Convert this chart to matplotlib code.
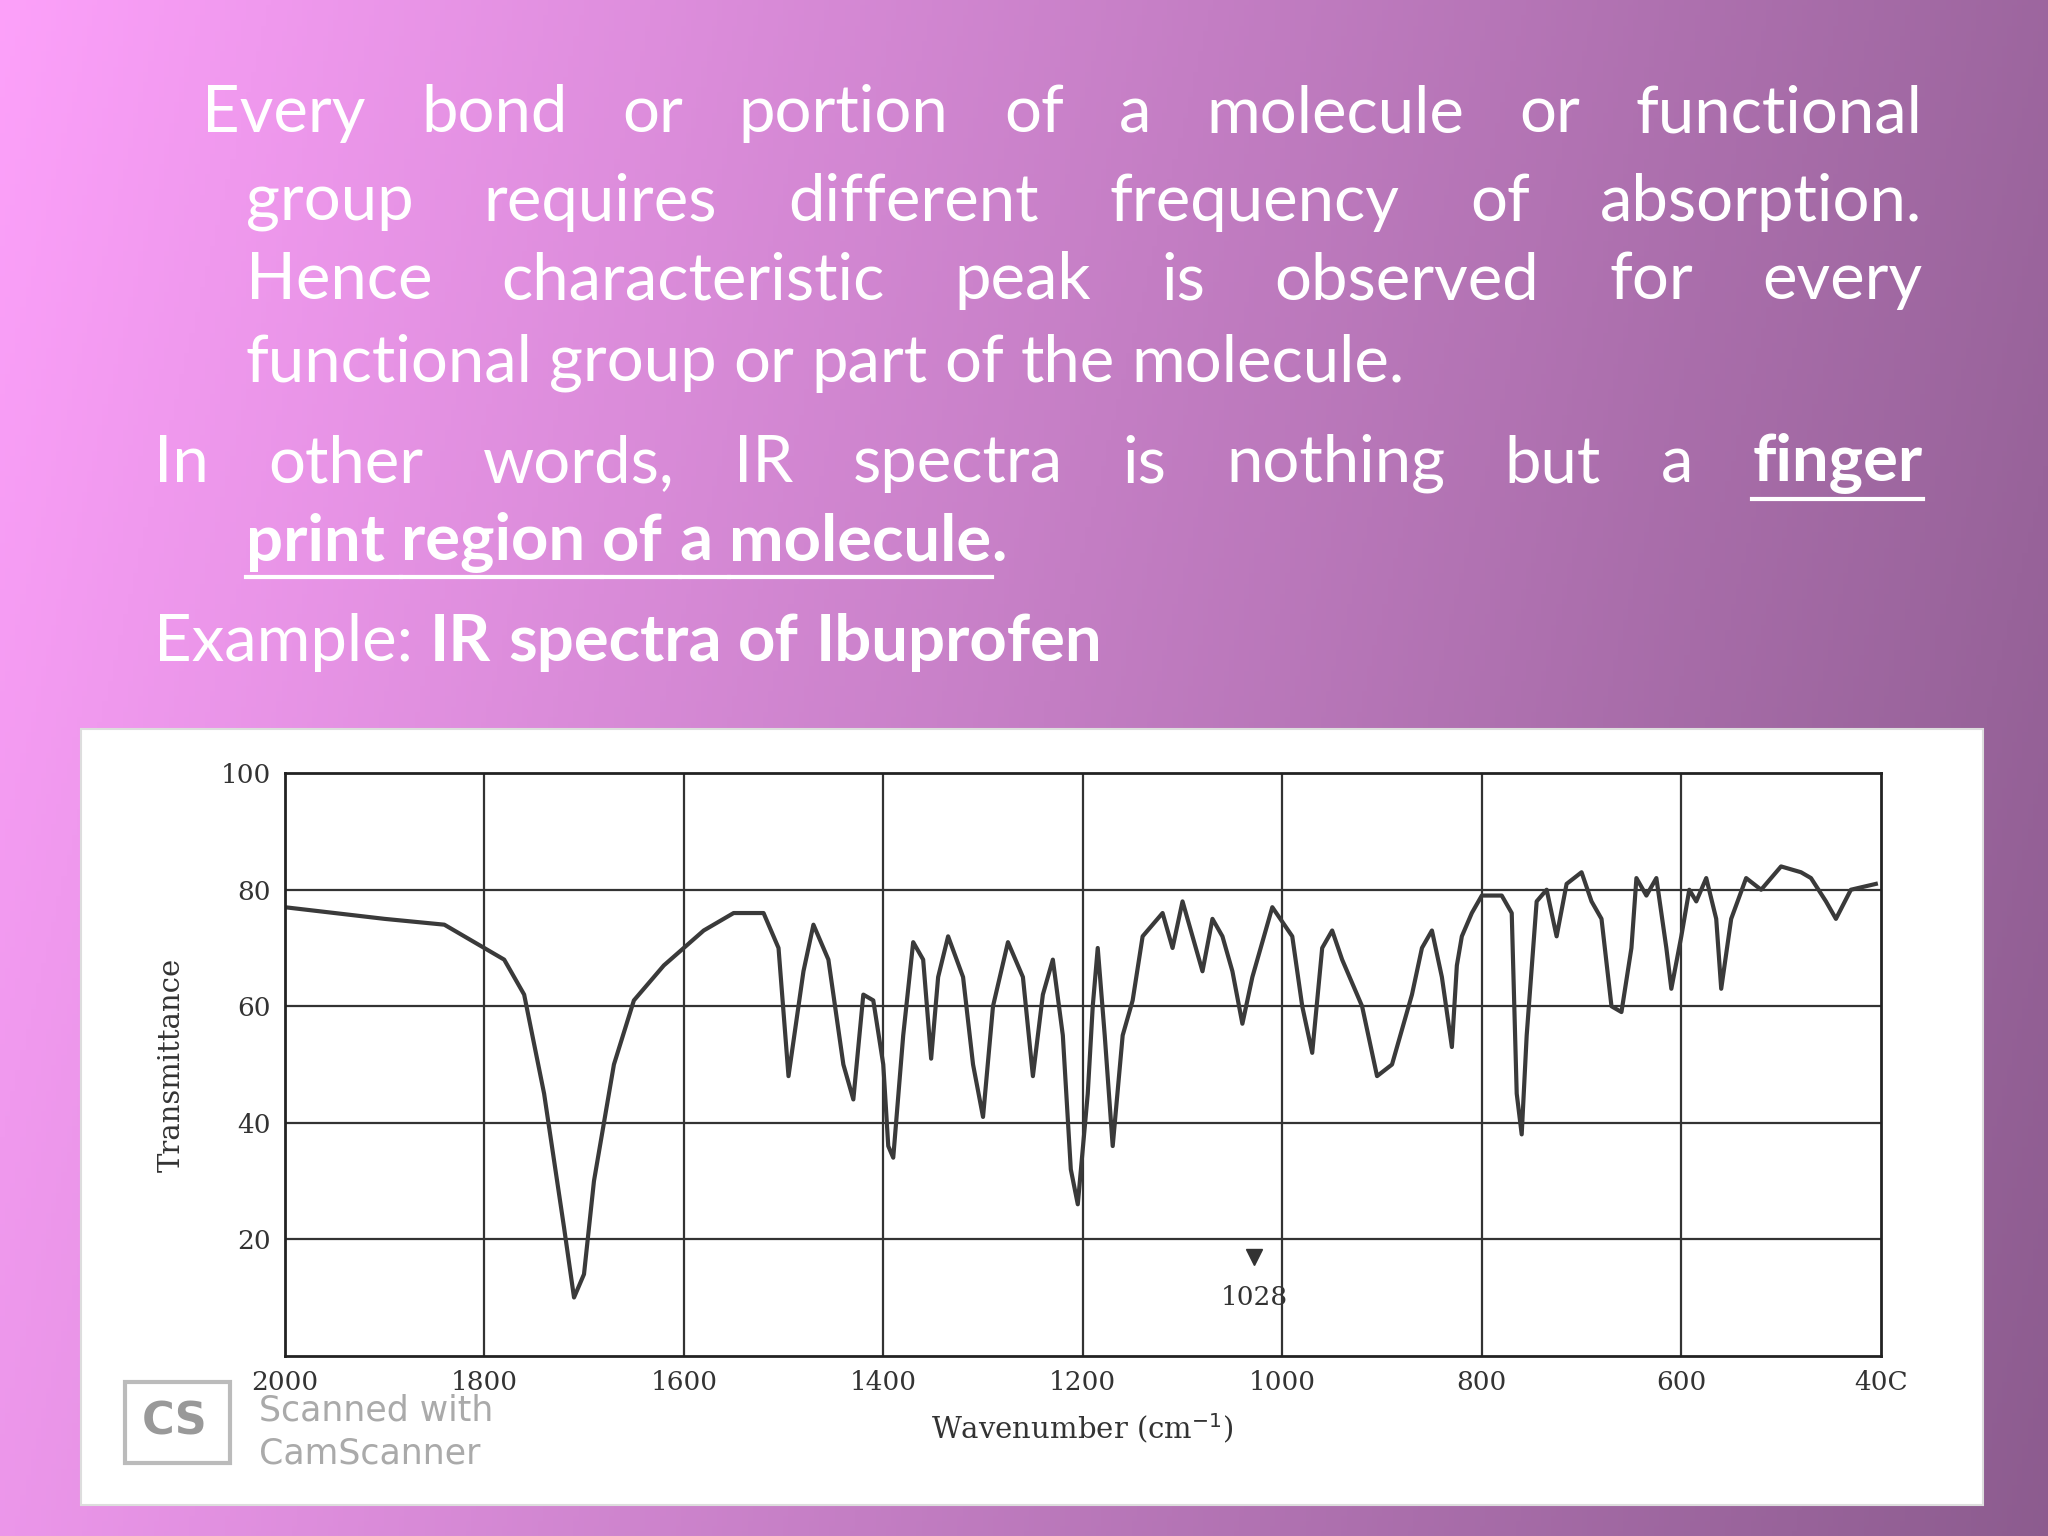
import numpy as np
import matplotlib
matplotlib.use("Agg")
import matplotlib.pyplot as plt
from matplotlib.patches import Rectangle

# ---------------- data ----------------
wavenumber = [2000,1900,1840,1800,1780,1760,1740,1720,1710,1700,1690,1670,1650,1620,1580,1550,1520,1505,1495,
              1480,1470,1455,1440,1430,1420,1410,1400,1395,1390,1380,1370,1360,1352,1345,1335,1320,1310,1300,
              1290,1275,1260,1250,1240,1230,1220,1212,1205,1195,1190,1185,1178,1170,1160,1150,1140,1120,1110,
              1100,1090,1080,1070,1060,1050,1040,1030,1010,990,980,970,960,950,940,920,905,890,870,860,850,840,
              830,825,820,810,800,780,770,765,760,755,745,735,725,715,700,690,680,670,660,650,645,635,625,615,
              610,600,592,585,575,565,560,550,535,520,510,500,480,470,455,445,430,405]
transmittance = [77,75,74,70,68,62,45,22,10,14,30,50,61,67,73,76,76,70,48,
                 66,74,68,50,44,62,61,50,36,34,55,71,68,51,65,72,65,50,41,
                 60,71,65,48,62,68,55,32,26,45,60,70,55,36,55,61,72,76,70,
                 78,72,66,75,72,66,57,65,77,72,60,52,70,73,68,60,48,50,62,70,73,65,
                 53,67,72,76,79,79,76,45,38,55,78,80,72,81,83,78,75,60,59,70,82,79,82,70,
                 63,72,80,78,82,75,63,75,82,80,82,84,83,82,78,75,80,81]
x_ticks = [2000,1800,1600,1400,1200,1000,800,600,400]
x_ticklabels = ["2000","1800","1600","1400","1200","1000","800","600","40C"]
y_ticks = [20,40,60,80,100]
annot_wn, annot_label = 1028, "1028"

W, H = 1568.0, 1176.0
def fx(p): return p / W
def fy(p): return 1 - p / H

fig = plt.figure(figsize=(20.48, 15.36), dpi=100)

# background gradient
bg = fig.add_axes([0, 0, 1, 1], zorder=-5); bg.set_axis_off()
nx, ny = 400, 300
X, Y = np.meshgrid(np.linspace(0, 1, nx), np.linspace(0, 1, ny))
t = np.clip(0.85 * X + 0.15 * Y, 0, 1)
c0 = np.array([0.99, 0.63, 0.98]); c1 = np.array([0.55, 0.36, 0.56])
img = c0[None, None, :] * (1 - t[..., None]) + c1[None, None, :] * t[..., None]
bg.imshow(img, aspect="auto", extent=[0, 1, 0, 1], origin="upper")
bg.set_xlim(0, 1); bg.set_ylim(0, 1)
bg.add_patch(Rectangle((fx(62), fy(1152)), fx(1518) - fx(62), fy(558) - fy(1152),
                       facecolor="white", edgecolor="#dddddd", lw=1.5))

# ---------------- slide text ----------------
renderer = fig.canvas.get_renderer()
FS = 47
FAM = ["Lato", "DejaVu Sans"]

def draw_line(words, ypix, x0pix, x1pix=None):
    arts = []
    for w, b, u in words:
        a = fig.text(0, fy(ypix), w, color="white", fontsize=FS, family=FAM,
                     fontweight="bold" if b else "normal", va="center", ha="left")
        arts.append((a, u, w))
    widths = [a.get_window_extent(renderer).width / fig.bbox.width for a, _, _ in arts]
    t1 = fig.text(0, 0, "a a", fontsize=FS, family=FAM); t2 = fig.text(0, 0, "aa", fontsize=FS, family=FAM)
    space = (t1.get_window_extent(renderer).width - t2.get_window_extent(renderer).width) / fig.bbox.width
    t1.remove(); t2.remove()
    x0 = fx(x0pix)
    nattach = sum(1 for _, _, w in arts if w == ".")
    if x1pix is not None and len(arts) > 1:
        gap = (fx(x1pix) - x0 - sum(widths)) / (len(arts) - 1 - nattach)
    else:
        gap = space
    x = x0
    for i, ((a, u, w), wd) in enumerate(zip(arts, widths)):
        if w == "." and i > 0:
            x -= gap
        a.set_x(x)
        if u:
            yy = fy(ypix + 27)
            fig.add_artist(plt.Line2D([x, x + wd + (gap if u == 2 else 0)], [yy, yy], color="white", lw=3))
        x += wd + gap

def plain(s): return [(w, False, 0) for w in s.split()]

draw_line(plain("Every bond or portion of a molecule or functional"), 87, 155, 1472)
draw_line(plain("group requires different frequency of absorption."), 155, 188, 1472)
draw_line(plain("Hence characteristic peak is observed for every"), 215, 188, 1472)
draw_line(plain("functional group  or part of the molecule."), 278, 188)
draw_line(plain("In other words, IR spectra is nothing but a") + [("finger", True, 1)], 355, 118, 1472)
draw_line([("print", True, 2), ("region", True, 2), ("of", True, 2), ("a", True, 2), ("molecule", True, 1), (".", True, 0)], 415, 188)
draw_line([("Example:", False, 0), ("IR", True, 0), ("spectra", True, 0), ("of", True, 0), ("Ibuprofen", True, 0)], 492, 118)

# ---------------- chart ----------------
ax = fig.add_axes([fx(218), fy(1038), fx(1440) - fx(218), fy(592) - fy(1038)])
ax.set_xlim(2000, 400); ax.set_ylim(0, 100)
ax.set_facecolor("white")
for yv in y_ticks[:-1]:
    ax.axhline(yv, color="#333333", lw=1.6)
for xv in x_ticks[1:-1]:
    ax.axvline(xv, color="#333333", lw=1.6)
for s in ax.spines.values():
    s.set_color("#222222"); s.set_linewidth(2)
ax.plot(wavenumber, transmittance, color="#3a3a3a", lw=3)
ax.plot([annot_wn], [17], marker="v", color="#333333", markersize=12)
ax.text(annot_wn, 10, annot_label, ha="center", va="center", fontsize=19, family="DejaVu Serif", color="#333333")
ax.set_xticks(x_ticks); ax.set_xticklabels(x_ticklabels, fontsize=19, family="DejaVu Serif", color="#333333")
ax.set_yticks(y_ticks); ax.set_yticklabels([str(v) for v in y_ticks], fontsize=19, family="DejaVu Serif", color="#333333")
ax.tick_params(length=0, pad=10)
ax.set_xlabel("Wavenumber (cm$^{-1}$)", fontsize=21, family="DejaVu Serif", color="#333333", labelpad=12)
ax.set_ylabel("Transmittance", fontsize=21, family="DejaVu Serif", color="#333333", labelpad=25)

# CamScanner watermark
fig.add_artist(Rectangle((fx(96), fy(1120)), fx(176) - fx(96), fy(1058) - fy(1120),
                         facecolor="none", edgecolor="#bbbbbb", lw=3, transform=fig.transFigure))
fig.text(fx(134), fy(1089), "CS", fontsize=32, fontweight="bold", color="#999999", ha="center", va="center")
fig.text(fx(198), fy(1080), "Scanned with", fontsize=25, color="#aaaaaa", ha="left", va="center")
fig.text(fx(198), fy(1113), "CamScanner", fontsize=25, color="#aaaaaa", ha="left", va="center")

fig.savefig("out.png", dpi=100)
